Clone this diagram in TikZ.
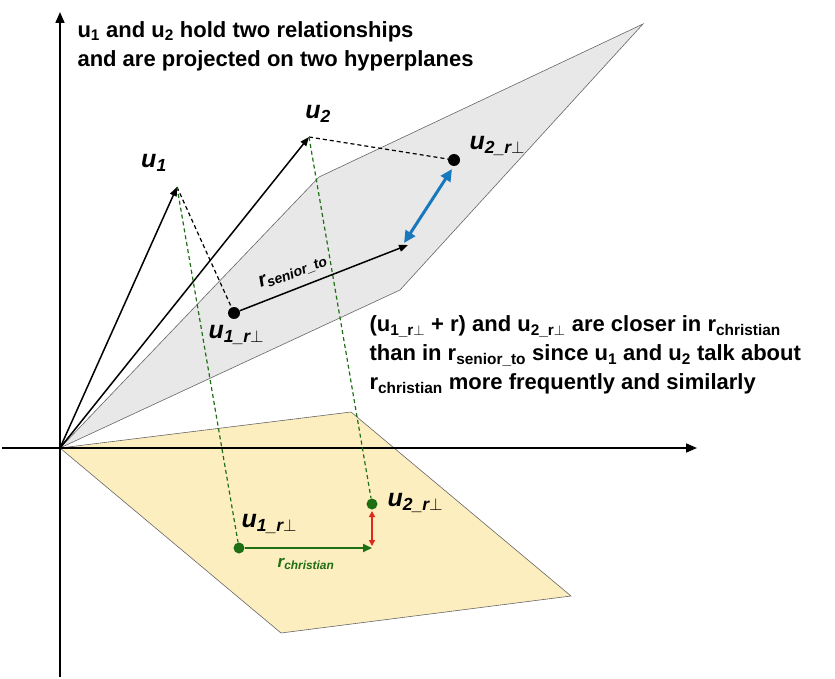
\documentclass[tikz,border=0pt]{standalone}
\usepackage{fontspec}
\setmainfont{Liberation Sans}
\usetikzlibrary{arrows.meta}
\definecolor{grayp}{RGB}{232,232,232}
\definecolor{yellowp}{RGB}{253,238,192}
\definecolor{dgreen}{RGB}{30,110,20}
\definecolor{blu}{RGB}{24,120,190}
\definecolor{redd}{RGB}{225,40,30}
\newcommand{\pp}{\ensuremath{\perp}}
\begin{document}
\begin{tikzpicture}[x=1pt,y=-1pt,
  axis/.style={line width=1.6pt,-{Triangle[length=11pt,width=9pt]}},
  vec/.style={line width=1.5pt,-{Triangle[length=9pt,width=7pt]}},
  proj/.style={line width=1.2pt,dash pattern=on 4pt off 3pt},
  gproj/.style={dgreen,line width=1.2pt,dash pattern=on 4pt off 3pt},
  plane/.style={draw=black!60,line width=0.6pt},
  big/.style={font=\bfseries\itshape\fontsize{25}{27}\selectfont},
  txt/.style={font=\bfseries\fontsize{22}{29}\selectfont,align=left,anchor=west},
  dot/.style={circle,fill,inner sep=0pt,minimum size=12pt}]
\useasboundingbox (0,0) rectangle (835,679);
% planes
\filldraw[plane,fill=yellowp] (60,448) -- (351,412) -- (571,596) -- (281,633) -- cycle;
\filldraw[plane,fill=grayp] (60,448) -- (319,177) -- (643,24) -- (400,290) -- cycle;
% axes
\coordinate (O) at (60,448);
\coordinate (yb) at (60,677);
\coordinate (yt) at (60,12);
\coordinate (xl) at (2,448);
\coordinate (xr) at (697,448);
\draw[axis] (yb) -- (yt);
\draw[axis] (xl) -- (xr);
% points
\coordinate (u1) at (177,187);
\coordinate (u2) at (309,137);
\node[dot] (u1r) at (234,313) {};
\node[dot] (u2r) at (454,160) {};
\coordinate (st) at (408,245);
\node[dot,dgreen,minimum size=11pt] (y1) at (239,548) {};
\node[dot,dgreen,minimum size=11pt] (y2) at (372,504) {};
\coordinate (ct) at (372,548);
% vectors
\draw[vec] (O) -- (u1);
\draw[vec] (O) -- (u2);
\draw[proj] (u1) -- (u1r);
\draw[proj] (u2) -- (u2r);
\draw[gproj] (u1) -- (y1);
\draw[gproj] (u2) -- (y2);
\draw[vec] (u1r) -- (st);
\draw[blu,line width=3pt,{Triangle[length=12pt,width=11pt]}-{Triangle[length=12pt,width=11pt]}] (452,169) -- (404,243);
\draw[dgreen,line width=1.8pt,-{Triangle[length=9pt,width=8pt]}] (y1) -- (ct);
\draw[redd,line width=1.3pt,{Triangle[length=6pt,width=6pt]}-{Triangle[length=6pt,width=6pt]}] (372,511) -- (372,546);
% labels
\node[big] (lu1) at (154,163) {u\textsubscript{1}};
\node[big] (lu2) at (318,114) {u\textsubscript{2}};
\node[big,anchor=west] (lu2r) at (466,146) {u\textsubscript{2\_r\pp}};
\node[big,anchor=west] (lu1r) at (205,335) {u\textsubscript{1\_r\pp}};
\node[font=\bfseries\itshape\fontsize{20}{22}\selectfont,rotate=21] (lst) at (293,272) {r\textsubscript{senior\_to}};
\node[big,anchor=west] (ly1) at (238,524) {u\textsubscript{1\_r\pp}};
\node[big,anchor=west] (ly2) at (384,503) {u\textsubscript{2\_r\pp}};
\node[font=\bfseries\itshape\fontsize{17}{18}\selectfont,text=dgreen] (lch) at (306,564) {r\textsubscript{christian}};
\node[txt] (t1) at (74,46) {u\textsubscript{1} and u\textsubscript{2} hold two relationships\\and are projected on two hyperplanes};
\node[txt] (t2) at (366,355) {(u\textsubscript{1\_r\pp} + r) and u\textsubscript{2\_r\pp} are closer in r\textsubscript{christian}\\than in r\textsubscript{senior\_to} since u\textsubscript{1} and u\textsubscript{2} talk about\\r\textsubscript{christian} more frequently and similarly};
\end{tikzpicture}
\end{document}
